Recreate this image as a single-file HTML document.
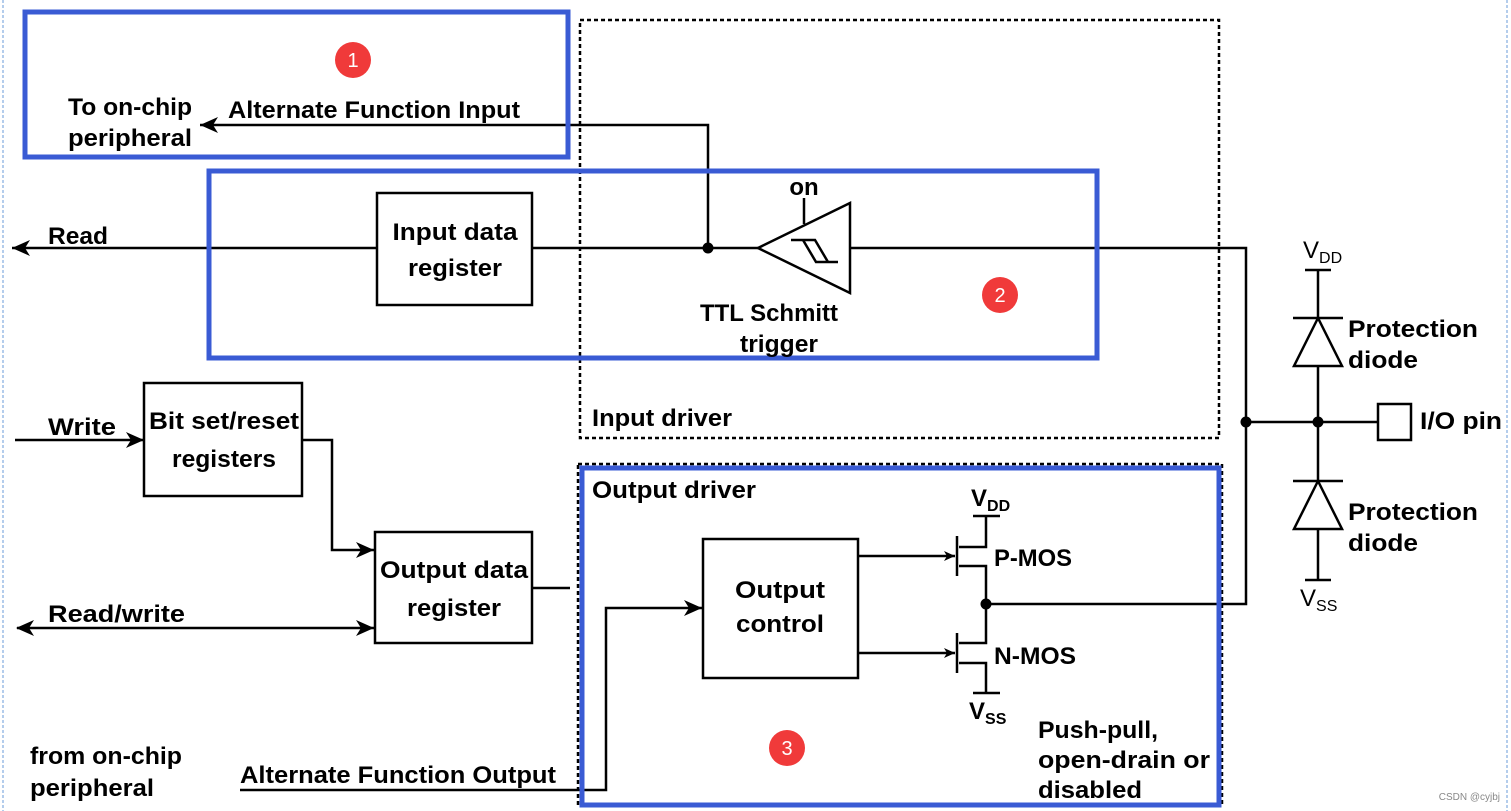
<!DOCTYPE html>
<html><head><meta charset="utf-8"><style>
html,body{margin:0;padding:0;background:#fff}
svg{display:block}
text{font-family:"Liberation Sans",sans-serif;font-weight:bold;fill:#000}
</style></head><body>
<svg width="1511" height="811" viewBox="0 0 1511 811" xmlns="http://www.w3.org/2000/svg">
<defs>
<marker id="ar" markerWidth="20" markerHeight="16" refX="18" refY="8" orient="auto" markerUnits="userSpaceOnUse"><path d="M0,0 L18,8 L0,16 L5,8 Z" fill="#000"/></marker>
<marker id="ars" markerWidth="20" markerHeight="16" refX="1" refY="8" orient="auto" markerUnits="userSpaceOnUse"><path d="M18,0 L0,8 L18,16 L13,8 Z" fill="#000"/></marker>
<marker id="sm" markerWidth="12" markerHeight="10" refX="11" refY="5" orient="auto" markerUnits="userSpaceOnUse"><path d="M0,0 L11,5 L0,10 L3,5 Z" fill="#000"/></marker>
</defs>
<line x1="3" y1="0" x2="3" y2="811" stroke="#6a9bd8" stroke-width="1" stroke-dasharray="3,2"/>
<line x1="1507" y1="0" x2="1507" y2="811" stroke="#6a9bd8" stroke-width="1" stroke-dasharray="3,2"/>
<g stroke="#000" stroke-width="2.5" fill="none">
<rect x="580" y="20" width="639" height="418" stroke-dasharray="4,3"/>
<rect x="578" y="464" width="644" height="342" stroke-dasharray="4,3"/>
<polyline points="708,248 708,125 200,125" marker-end="url(#ar)"/>
<line x1="377" y1="248" x2="12" y2="248" marker-end="url(#ar)"/>
<rect x="377" y="193" width="155" height="112"/>
<line x1="532" y1="248" x2="758" y2="248"/>
<polygon points="758,248 850,203 850,293"/>
<line x1="804" y1="198" x2="804" y2="224"/>
<polyline points="791,240 815,240 828,262"/>
<polyline points="803,240 816,262 838,262"/>
<polyline points="850,248 1246,248 1246,604 986,604"/>
<line x1="1246" y1="422" x2="1378" y2="422"/>
<rect x="1378" y="404" width="33" height="36"/>
<line x1="1318" y1="270" x2="1318" y2="580"/>
<line x1="1305" y1="270" x2="1331" y2="270"/>
<line x1="1293" y1="318" x2="1343" y2="318"/>
<polygon points="1318,318 1294,366 1342,366" fill="#fff"/>
<line x1="1293" y1="481" x2="1343" y2="481"/>
<polygon points="1318,481 1294,529 1342,529" fill="#fff"/>
<line x1="1305" y1="580" x2="1331" y2="580"/>
<line x1="15" y1="440" x2="144" y2="440" marker-end="url(#ar)"/>
<rect x="144" y="383" width="158" height="113"/>
<polyline points="302,440 332,440 332,550 374,550" marker-end="url(#ar)"/>
<rect x="375" y="532" width="157" height="111"/>
<line x1="17" y1="628" x2="374" y2="628" marker-start="url(#ars)" marker-end="url(#ar)"/>
<line x1="532" y1="588" x2="570" y2="588"/>
<rect x="703" y="539" width="155" height="139"/>
<polyline points="240,790 606,790 606,608 702,608" marker-end="url(#ar)"/>
<line x1="858" y1="556" x2="955" y2="556" marker-end="url(#sm)"/>
<line x1="957" y1="536" x2="957" y2="576"/>
<polyline points="959,547 986,547 986,516"/>
<line x1="973" y1="516" x2="1000" y2="516"/>
<polyline points="959,566 986,566 986,643 959,643"/>
<line x1="858" y1="653" x2="955" y2="653" marker-end="url(#sm)"/>
<line x1="957" y1="633" x2="957" y2="673"/>
<polyline points="959,663 986,663 986,693"/>
<line x1="973" y1="693" x2="1000" y2="693"/>
</g>
<circle cx="708" cy="248" r="5.5" fill="#000"/>
<circle cx="1246" cy="422" r="5.5" fill="#000"/>
<circle cx="1318" cy="422" r="5.5" fill="#000"/>
<circle cx="986" cy="604" r="5.5" fill="#000"/>
<g fill="none" stroke="#3a5bd4" stroke-width="5">
<rect x="25" y="12" width="543" height="145"/>
<rect x="209" y="171" width="888" height="187"/>
<rect x="582" y="468" width="637" height="337"/>
</g>
<g fill="#f03a3a"><circle cx="353" cy="60" r="18"/><circle cx="1000" cy="295" r="18"/><circle cx="787" cy="748" r="18"/></g>
<g font-size="20" text-anchor="middle"><text x="353" y="67" style="fill:#fff;font-weight:normal">1</text><text x="1000" y="302" style="fill:#fff;font-weight:normal">2</text><text x="787" y="755" style="fill:#fff;font-weight:normal">3</text></g>
<g font-size="24">
<text x="68" y="115" textLength="124" lengthAdjust="spacingAndGlyphs">To on-chip</text>
<text x="68" y="146" textLength="124" lengthAdjust="spacingAndGlyphs">peripheral</text>
<text x="228" y="118" textLength="292" lengthAdjust="spacingAndGlyphs">Alternate Function Input</text>
<text x="48" y="244" textLength="60" lengthAdjust="spacingAndGlyphs">Read</text>
<text x="455" y="240" text-anchor="middle" textLength="125" lengthAdjust="spacingAndGlyphs">Input data</text>
<text x="455" y="276" text-anchor="middle" textLength="94" lengthAdjust="spacingAndGlyphs">register</text>
<text x="804" y="195" text-anchor="middle">on</text>
<text x="700" y="321" textLength="138" lengthAdjust="spacingAndGlyphs">TTL Schmitt</text>
<text x="740" y="352" textLength="78" lengthAdjust="spacingAndGlyphs">trigger</text>
<text x="592" y="426" textLength="140" lengthAdjust="spacingAndGlyphs">Input driver</text>
<text x="48" y="435" textLength="68" lengthAdjust="spacingAndGlyphs">Write</text>
<text x="224" y="429" text-anchor="middle" textLength="150" lengthAdjust="spacingAndGlyphs">Bit set/reset</text>
<text x="224" y="467" text-anchor="middle" textLength="104" lengthAdjust="spacingAndGlyphs">registers</text>
<text x="454" y="578" text-anchor="middle" textLength="148" lengthAdjust="spacingAndGlyphs">Output data</text>
<text x="454" y="616" text-anchor="middle" textLength="94" lengthAdjust="spacingAndGlyphs">register</text>
<text x="48" y="622" textLength="137" lengthAdjust="spacingAndGlyphs">Read/write</text>
<text x="592" y="498" textLength="164" lengthAdjust="spacingAndGlyphs">Output driver</text>
<text x="780" y="598" text-anchor="middle" textLength="90" lengthAdjust="spacingAndGlyphs">Output</text>
<text x="780" y="632" text-anchor="middle" textLength="88" lengthAdjust="spacingAndGlyphs">control</text>
<text x="994" y="566" textLength="78" lengthAdjust="spacingAndGlyphs">P-MOS</text>
<text x="994" y="664" textLength="82" lengthAdjust="spacingAndGlyphs">N-MOS</text>
<text x="1038" y="738" textLength="120" lengthAdjust="spacingAndGlyphs">Push-pull,</text>
<text x="1038" y="768" textLength="172" lengthAdjust="spacingAndGlyphs">open-drain or</text>
<text x="1038" y="798" textLength="104" lengthAdjust="spacingAndGlyphs">disabled</text>
<text x="30" y="764" textLength="152" lengthAdjust="spacingAndGlyphs">from on-chip</text>
<text x="30" y="796" textLength="124" lengthAdjust="spacingAndGlyphs">peripheral</text>
<text x="240" y="783" textLength="316" lengthAdjust="spacingAndGlyphs">Alternate Function Output</text>
<text x="1348" y="337" textLength="130" lengthAdjust="spacingAndGlyphs">Protection</text>
<text x="1348" y="368" textLength="70" lengthAdjust="spacingAndGlyphs">diode</text>
<text x="1348" y="520" textLength="130" lengthAdjust="spacingAndGlyphs">Protection</text>
<text x="1348" y="551" textLength="70" lengthAdjust="spacingAndGlyphs">diode</text>
<text x="1420" y="429" textLength="82" lengthAdjust="spacingAndGlyphs">I/O pin</text>
</g>
<g font-size="24">
<text x="1303" y="258" style="font-weight:normal">V<tspan font-size="16" dy="5">DD</tspan></text>
<text x="1300" y="606" style="font-weight:normal">V<tspan font-size="16" dy="5">SS</tspan></text>
<text x="971" y="506">V<tspan font-size="16" dy="5">DD</tspan></text>
<text x="969" y="719">V<tspan font-size="16" dy="5">SS</tspan></text>
</g>
<text x="1500" y="800" font-size="10" text-anchor="end" style="font-weight:normal;fill:#888">CSDN @cyjbj</text>
</svg>
</body></html>
